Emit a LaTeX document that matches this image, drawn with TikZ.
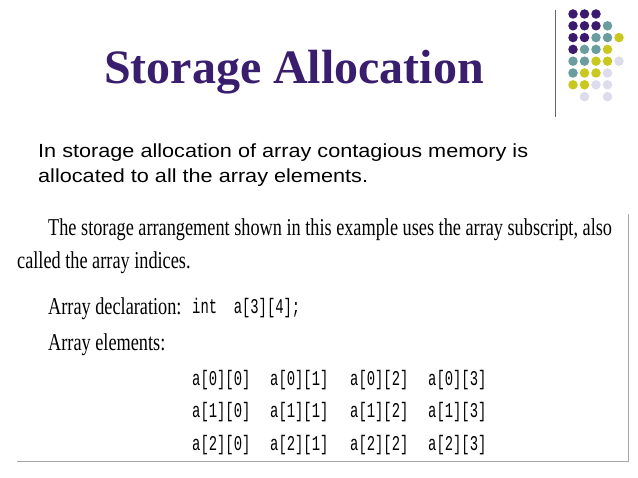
\documentclass[tikz,border=0pt]{standalone}
\usepackage{fontspec}
\setmainfont{Liberation Serif}
\newfontfamily\arial{Liberation Sans}
\newfontfamily\mono{Liberation Mono}
\definecolor{pp}{HTML}{3C1A6E}
\definecolor{tl}{HTML}{6A9E9E}
\definecolor{yl}{HTML}{C8C81E}
\definecolor{lv}{HTML}{DCDCEC}
\definecolor{ttl}{HTML}{3A1E6E}
\begin{document}
\begin{tikzpicture}[x=1pt,y=-1pt,
  dot/.style={circle,inner sep=0pt,minimum size=9.5pt},
  tx/.style={anchor=west,inner sep=0pt,font=\fontsize{22}{22}\selectfont},
  el/.style={anchor=west,inner sep=0pt,font=\mono\fontsize{21}{21}\selectfont},
  bt/.style={anchor=west,inner sep=0pt,font=\arial\fontsize{19}{19}\selectfont}]
\useasboundingbox (0,0) rectangle (638,478);
\fill[white] (0,0) rectangle (638,478);
% dots
\def\xs{{573,584.5,596,607.5,619}}
\foreach \r/\row in {0/{pp,pp,pp,,},1/{pp,pp,pp,tl,},2/{pp,pp,tl,tl,yl},3/{pp,tl,tl,yl,},4/{tl,tl,yl,yl,lv},5/{tl,yl,yl,lv,},6/{yl,yl,lv,lv,},7/{,lv,,lv,}}{
  \foreach \c [count=\i from 0] in \row {
    \ifx\c\empty\else
      \pgfmathsetmacro\xx{\xs[\i]}
      \node[dot,fill=\c] (d\r\i) at (\xx,{14+\r*11.8}) {};
    \fi
  }
}
\draw[gray!80!black,line width=0.8pt] (555,10) -- (555,117);
\node[font=\bfseries\fontsize{48}{48}\selectfont,text=ttl] (title) at (294,72) {Storage Allocation};
\node[bt] (b1) at (38,153) {\scalebox{1.14}[1]{In storage allocation of array contagious memory is}};
\node[bt] (b2) at (38,178) {\scalebox{1.14}[1]{allocated to all the array elements.}};
% image
\draw[gray!70,line width=0.8pt] (628,214) -- (628,461) -- (17,461);
\node[tx] (l1) at (48,230) {\scalebox{0.83}[1.1]{The storage arrangement shown in this example uses the array subscript, also}};
\node[tx] (l2) at (17,263) {\scalebox{0.83}[1.1]{called the array indices.}};
\node[tx] (l3) at (48,309) {\scalebox{0.83}[1.1]{Array declaration:}};
\node[el] (l3b) at (192,308) {\scalebox{0.66}[1]{int\ \ a[3][4];}};
\node[tx] (l4) at (48,345) {\scalebox{0.83}[1.1]{Array elements:}};
\foreach \r/\yy in {0/380,1/412,2/445}{
  \foreach \c/\xx in {0/192,1/270,2/350,3/428}{
    \node[el] (e\r\c) at (\xx,\yy) {\scalebox{0.66}[1]{a[\r][\c]}};
  }
}
\end{tikzpicture}
\end{document}
